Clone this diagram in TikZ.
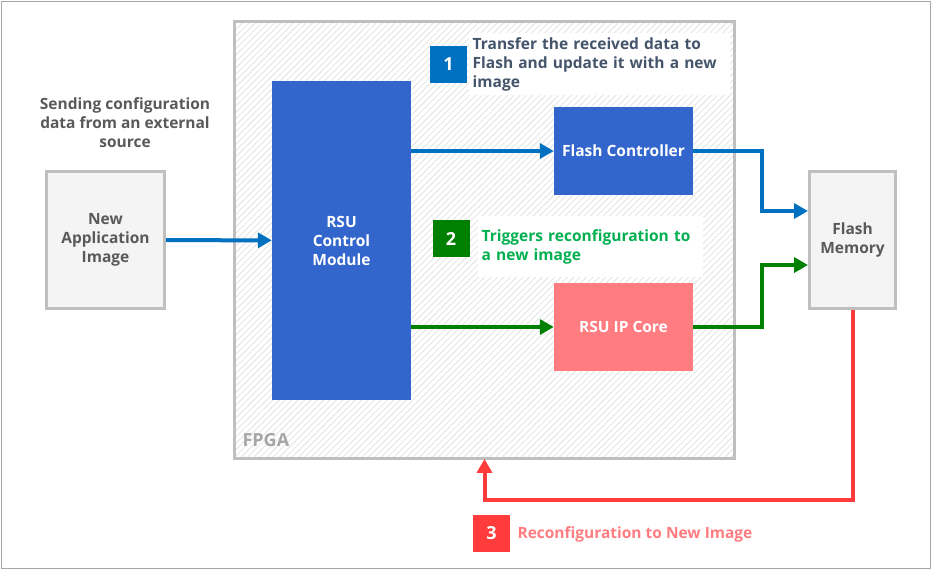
\documentclass[tikz,border=0pt]{standalone}
\usepackage{fontspec}
\setmainfont{Open Sans}
\usetikzlibrary{arrows.meta,patterns.meta}

\definecolor{bluBox}{HTML}{3366CC}
\definecolor{bluFreccia}{HTML}{0070C0}
\definecolor{verde}{HTML}{008000}
\definecolor{verdeTesto}{HTML}{00B050}
\definecolor{rosso}{HTML}{FF3B3B}
\definecolor{rosa}{HTML}{FF7C80}
\definecolor{grigioBordo}{HTML}{BFBFBF}
\definecolor{grigioFondo}{HTML}{F4F4F4}
\definecolor{grigioTesto}{HTML}{595959}
\definecolor{navy}{HTML}{44546A}

\begin{document}
\begin{tikzpicture}[x=1pt, y=-1pt,
    font=\fontsize{15.5}{19}\selectfont\bfseries,
    blocco/.style={rectangle, fill=bluBox, text=white, align=center, minimum width=139},
    esterno/.style={rectangle, draw=grigioBordo, line width=3pt, fill=grigioFondo,
      text=grigioTesto, align=center, minimum height=137},
    badge/.style={rectangle, text=white, minimum size=37, font=\fontsize{18}{20}\selectfont\bfseries},
    nota/.style={fill=white, align=left, anchor=north west, inner sep=3.5pt},
    freccia/.style={line width=4pt, -{Triangle[length=14pt, width=15pt]}}]
    \useasboundingbox (0,0) rectangle (932,571);
    \draw[gray!70, line width=1pt] (1,1) rectangle (930,568);

    % Nodi
    \node[rectangle, draw=grigioBordo, line width=3pt, preaction={fill=white},
      pattern={Lines[angle=45, distance=4.5pt, line width=0.8pt]}, pattern color=black!11,
      minimum width=500, minimum height=437] (fpga) at (484.5,240) {};
    \node[text=black!35, anchor=west, font=\fontsize{18}{20}\selectfont\bfseries] (lblfpga) at (239,440) {FPGA};
    \node[blocco, minimum height=319] (rsu) at (341.5,240.5) {RSU\\Control\\Module};
    \node[blocco, minimum height=88] (fc) at (623.5,151) {Flash Controller};
    \node[blocco, fill=rosa, minimum height=88] (ip) at (623.5,327) {RSU IP Core};
    \node[esterno, minimum width=86] (mem) at (852.5,240) {Flash\\Memory};
    \node[esterno, minimum width=118] (img) at (105.5,240) {New\\Application\\Image};
    \node[text=grigioTesto, align=center] (sorgente) at (125,123) {Sending configuration\\data from an external\\source};

    \node[nota, text=navy, text width=254, minimum height=62] (t1) at (469,33)
      {Transfer the received data to\\Flash and update it with a new\\image};
    \node[badge, fill=bluFreccia] (b1) at (448.5,64.5) {1};
    \node[nota, text=verdeTesto, text width=218, minimum height=61] (t2) at (478,216)
      {Triggers reconfiguration to\\a new image};
    \node[badge, fill=verde] (b2) at (451,238.5) {2};
    \node[badge, fill=rosso] (b3) at (491.5,533) {3};
    \node[text=rosa, anchor=west] (t3) at (514,534) {Reconfiguration to New Image};

    % Archi
    \draw[freccia, bluFreccia] (img) -- (rsu);
    \draw[freccia, bluFreccia] (rsu.east |- fc) -- (fc);
    \draw[freccia, bluFreccia] (fc.east) -- (762,151) |- ([yshift=29pt]mem.west);
    \draw[freccia, verde] (rsu.east |- ip) -- (ip);
    \draw[freccia, verde] (ip.east) -- (762,327) |- ([yshift=-25pt]mem.west);
    \draw[freccia, rosso] (mem.south) -- (852.5,500) -| (fpga.south);
  \end{tikzpicture}
\end{document}
